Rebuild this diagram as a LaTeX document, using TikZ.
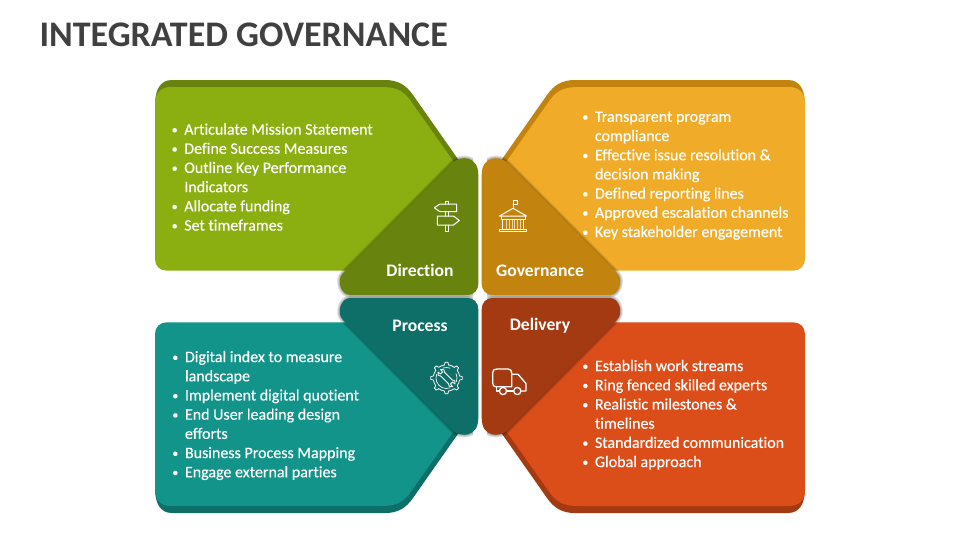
\documentclass[tikz,border=0pt]{standalone}
\usepackage{fontspec}
\setmainfont[Ligatures=NoCommon]{Carlito}
\newfontfamily\listfont[Ligatures=NoCommon,FakeBold=0.35]{Carlito}
\definecolor{titlegray}{HTML}{404040}
\definecolor{greenbox}{HTML}{8BAF10}\definecolor{greendark}{HTML}{69830F}
\definecolor{yellowbox}{HTML}{F0AC28}\definecolor{yellowdark}{HTML}{C2840F}
\definecolor{tealbox}{HTML}{12948A}\definecolor{tealdark}{HTML}{0E6E68}
\definecolor{orangebox}{HTML}{DB4E1A}\definecolor{orangedark}{HTML}{A33A12}
\tikzset{
  listtext/.style={anchor=north west,inner sep=0pt,align=left,text=white,font=\listfont\fontsize{12}{14.4}\selectfont},
  labeltext/.style={inner sep=0pt,text=white,font=\fontsize{13.2}{15}\selectfont\bfseries},
  icon/.style={draw=white,line width=0.75pt,line join=round,line cap=round,fill=none},
  thinicon/.style={draw=white,line width=0.5pt,line cap=round},
}
\newcommand{\bl}{\makebox[9.75pt][l]{\hspace*{.3pt}\raisebox{.7pt}{\fontsize{9}{9}\selectfont •}}}
\newcommand{\ct}{\hspace*{9.75pt}}
% #1 xscale, #2 yscale, #3 x shift, #4 y shift, #5 box colour, #6 dark colour
\newcommand{\quadrant}[6]{%
\begin{scope}[cm={#1,0,0,#2,(#3,#4)}]
  \fill[#6] (155,105) .. controls (155,90) and (160,80) .. (172,80) -- (385,80)
    .. controls (398,80) and (406,85) .. (413,95) -- (460,162) -- (350,262) -- (165,262) -- cycle;
  \fill[#5] (155,103) .. controls (155,93) and (161,87) .. (171,87) -- (380,87)
    .. controls (394,87) and (402,89) .. (410,100) -- (456,165) -- (456,200) -- (345,270.7)
    -- (167,270.7) .. controls (160,270.7) and (155,266) .. (155,259) -- cycle;
  \begin{scope}
    \clip (300,130) rectangle (473,297);
    \foreach \w in {1,2.5,4,5.5}{
      \draw[black,opacity=.09,line width=\w*.75pt]
        (453.5,162) .. controls (460,156) and (478.3,155) .. (478.3,175) -- (478.3,283)
        .. controls (478.3,291) and (474,295) .. (466,295) -- (350,295)
        .. controls (341,295) and (336,280) .. (343,273) -- cycle;
    }
  \end{scope}
  \fill[#6] (453.5,162) .. controls (460,156) and (478.3,155) .. (478.3,175) -- (478.3,283)
    .. controls (478.3,291) and (474,295) .. (466,295) -- (350,295)
    .. controls (341,295) and (336,280) .. (343,273) -- cycle;
\end{scope}}
\begin{document}
\begin{tikzpicture}[x=.75pt,y=-.75pt]
\useasboundingbox (0,0) rectangle (960,540);
\fill[white] (0,0) rectangle (960,540);
\node[anchor=west,inner sep=0pt,text=titlegray,font=\fontsize{27}{32}\selectfont\bfseries] (title) at (39.3,35) {INTEGRATED GOVERNANCE};

\quadrant{1}{1}{0}{0}{greenbox}{greendark}
\quadrant{-1}{1}{960}{0}{yellowbox}{yellowdark}
\quadrant{1}{-1}{0}{593}{tealbox}{tealdark}
\quadrant{-1}{-1}{960}{593}{orangebox}{orangedark}

\node[listtext] (listdirection) at (171,123.2) {\bl Articulate Mission Statement\\\bl Define Success Measures\\\bl Outline Key Performance\\\ct Indicators\\\bl Allocate funding\\\bl Set timeframes};
\node[listtext] (listgovernance) at (581.7,111.3) {\bl Transparent program\\\ct compliance\\\bl Effective issue resolution \&\\\ct decision making\\\bl Defined reporting lines\\\bl Approved escalation channels\\\bl Key stakeholder engagement};
\node[listtext] (listprocess) at (171.7,350.7) {\bl Digital index to measure\\\ct landscape\\\bl Implement digital quotient\\\bl End User leading design\\\ct efforts\\\bl Business Process Mapping\\\bl Engage external parties};
\node[listtext] (listdelivery) at (581.7,359.7) {\bl Establish work streams\\\bl Ring fenced skilled experts\\\bl Realistic milestones \&\\\ct timelines\\\bl Standardized communication\\\bl Global approach};

\node[labeltext] (direction) at (420,270.5) {Direction};
\node[labeltext] (governance) at (540,270.5) {Governance};
\node[labeltext] (process) at (420,325.5) {Process};
\node[labeltext] (delivery) at (540,325.5) {Delivery};

% signpost
\draw[icon] (440,204) -- (456.7,204) -- (456.7,211.7) -- (440,211.7) -- (434.3,207.8) -- cycle;
\draw[icon] (437.3,216) -- (453.5,216) -- (459.3,220.5) -- (453.5,225) -- (437.3,225) -- cycle;
\draw[icon] (445.3,204) -- (445.3,201) -- (448.7,201) -- (448.7,204);
\draw[icon] (445.3,211.7) -- (445.3,216);\draw[icon] (448.7,211.7) -- (448.7,216);
\draw[icon] (445.3,225) -- (445.3,231.3) -- (448.7,231.3) -- (448.7,225);

% building
\draw[icon] (499.5,216) -- (513,208.3) -- (526.5,216) -- cycle;
\draw[icon] (513,208.3) -- (513,200.8) -- (517,200.8) -- (517,204.6) -- (513,204.6);
\draw[icon] (501,216) -- (501,219.5) -- (525,219.5) -- (525,216);
\draw[icon] (499.5,229) rectangle (526.5,231.5);
\foreach \x in {502.5,523.5}{\draw[icon] (\x,219.5) -- (\x,229);}
\foreach \x in {506,509,512,514.5,517,520}{\draw[thinicon,draw opacity=.65] (\x,220) -- (\x,228.5);}

% gear
\begin{scope}[shift={(446.5,378)}]
  \foreach \a in {0,45,...,315}{
    \draw[icon,line width=.6pt] (\a-9:13.2) -- (\a-5:15.8) -- (\a+5:15.8) -- (\a+9:13.2)
      arc[start angle=\a+9,end angle=\a+36,radius=13.2];
  }
  \draw[thinicon] (-25:10.5) arc[start angle=-25,end angle=20,radius=10.5];
  \draw[thinicon] (70:10.5) arc[start angle=70,end angle=200,radius=10.5];
  \draw[thinicon] (250:10.5) arc[start angle=250,end angle=290,radius=10.5];
  % wrench
  \draw[icon,line width=.6pt] (-5.5,-1.8) -- (2,5.7) (-1.8,-5.5) -- (5.7,2);
  \draw[icon,line width=.6pt] (-1.8,-5.5) .. controls (-1,-8) and (-3.5,-9.5) .. (-6,-8.5) -- (-4,-6) -- (-6,-4) -- (-8.5,-6) .. controls (-9.5,-3.5) and (-8,-1) .. (-5.5,-1.8);
  \draw[icon,line width=.6pt] (2,5.7) .. controls (1,8) and (3.5,9.5) .. (6,8.5) -- (4,6) -- (6,4) -- (8.5,6) .. controls (9.5,3.5) and (8,1) .. (5.7,2);
\end{scope}

% truck
\draw[icon,line width=1pt] (496.7,386.8) .. controls (493.5,386.8) and (492.7,385) .. (492.7,383) -- (492.7,373)
  .. controls (492.7,370) and (494,369) .. (497,369) -- (508,369) .. controls (510.5,369) and (511.7,370.5) .. (511.7,373) -- (511.7,386.8) -- cycle;
\draw[icon,line width=1pt] (511.7,374.3) -- (518,374.3) -- (526,383.5) -- (526,391) -- (521.5,391);
\draw[icon,line width=1pt] (507,391) -- (513,391);
\draw[icon,line width=1pt] (498.7,391) -- (496.7,391) -- (496.7,387);
\draw[icon,line width=1pt] (503,391) circle (3.6);
\draw[icon,line width=1pt] (517.3,391) circle (3.6);
\end{tikzpicture}
\end{document}
